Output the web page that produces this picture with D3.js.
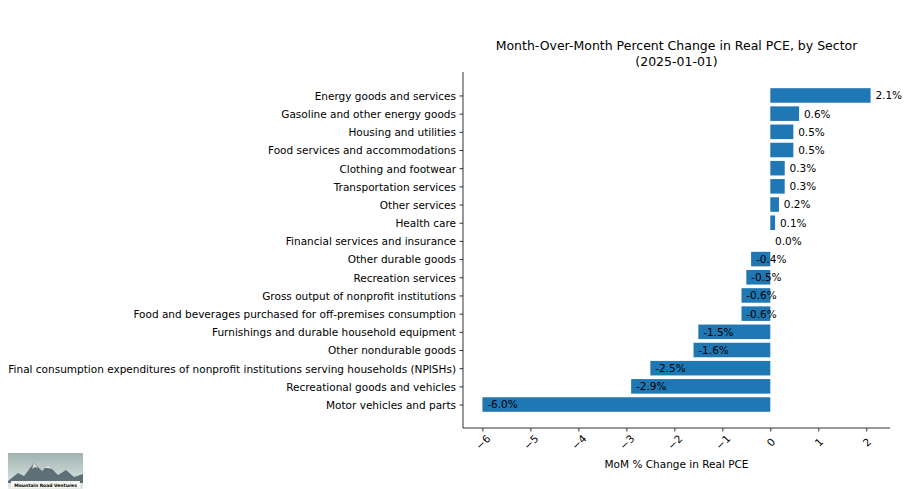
<!DOCTYPE html>
<meta charset="utf-8">
<style>
  body { margin: 0; background: #fff; }
  svg text { font-family: "DejaVu Sans", sans-serif; fill: #000; }
</style>
<script src="https://d3js.org/d3.v7.min.js"></script>
<div id="chart"></div>
<script>
// data (top bar first)
const sectors = [
  "Energy goods and services",
  "Gasoline and other energy goods",
  "Housing and utilities",
  "Food services and accommodations",
  "Clothing and footwear",
  "Transportation services",
  "Other services",
  "Health care",
  "Financial services and insurance",
  "Other durable goods",
  "Recreation services",
  "Gross output of nonprofit institutions",
  "Food and beverages purchased for off-premises consumption",
  "Furnishings and durable household equipment",
  "Other nondurable goods",
  "Final consumption expenditures of nonprofit institutions serving households (NPISHs)",
  "Recreational goods and vehicles",
  "Motor vehicles and parts"
];
const changes = [2.09, 0.6, 0.48, 0.48, 0.3, 0.3, 0.18, 0.1, 0.0, -0.4, -0.5, -0.6, -0.6, -1.5, -1.6, -2.5, -2.9, -6.0];
const xTicks = [-6, -5, -4, -3, -2, -1, 0, 1, 2];
const titleLines = ["Month-Over-Month Percent Change in Real PCE, by Sector", "(2025-01-01)"];
const xLabel = "MoM % Change in Real PCE";

const W = 906, H = 489;
const margin = {top: 72, right: 16, bottom: 61, left: 463};
const width = W - margin.left - margin.right,
      height = H - margin.top - margin.bottom;
const fs = 10.5;

const svg = d3.select("#chart").append("svg")
    .attr("width", W).attr("height", H);

const g = svg.append("g")
    .attr("transform", `translate(${margin.left},${margin.top})`);

// matplotlib-like 5% margins
const lo = d3.min(changes), hi = d3.max(changes);
const pad = (hi - lo) * 0.05;
const x = d3.scaleLinear().domain([lo - pad, hi + pad]).range([0, width]);

// bars at integer positions, height 0.8, 5% margin on the bar extent
const n = sectors.length;
const yLo = -0.4, yHi = (n - 1) + 0.4, yPad = (yHi - yLo) * 0.05;
const y = d3.scaleLinear().domain([yLo - yPad, yHi + yPad]).range([0, height]);
const bandH = y(0.8) - y(0);

g.selectAll("rect.bar").data(changes).enter().append("rect")
    .attr("class", "bar")
    .attr("x", d => x(Math.min(0, d)))
    .attr("y", (d, i) => y(i - 0.4))
    .attr("width", d => Math.abs(x(d) - x(0)))
    .attr("height", bandH)
    .attr("fill", "#1f77b4");

g.selectAll("text.val").data(changes).enter().append("text")
    .attr("class", "val")
    .attr("x", d => x(d + 0.1))
    .attr("y", (d, i) => y(i))
    .attr("dy", "0.37em")
    .attr("font-size", fs)
    .text(d => d.toFixed(1) + "%");

// y axis
const yAxis = g.append("g")
    .call(d3.axisLeft(y).tickValues(d3.range(n)).tickFormat(i => sectors[i])
      .tickSize(3.5).tickPadding(3.5));
yAxis.select(".domain").attr("stroke", "#000").attr("stroke-width", 0.8)
    .attr("d", `M0,0V${height}`);
yAxis.selectAll(".tick line").attr("stroke", "#000").attr("stroke-width", 0.8);
yAxis.selectAll(".tick text").attr("font-size", fs).attr("fill", "#000")
    .attr("font-family", "DejaVu Sans, sans-serif").attr("dy", "0.37em");

// x axis
const xAxis = g.append("g")
    .attr("transform", `translate(0,${height})`)
    .call(d3.axisBottom(x).tickValues(xTicks).tickFormat(d3.format("d"))
      .tickSize(3.5).tickPadding(3.5));
xAxis.select(".domain").attr("stroke", "#000").attr("stroke-width", 0.8)
    .attr("d", `M0,0H${width}`);
xAxis.selectAll(".tick line").attr("stroke", "#000").attr("stroke-width", 0.8);
xAxis.selectAll(".tick text")
    .attr("font-size", fs).attr("fill", "#000")
    .attr("font-family", "DejaVu Sans, sans-serif")
    .attr("text-anchor", "middle")
    .attr("dy", null)
    .attr("y", 0)
    .attr("transform", "translate(0,14) rotate(-45)")
    .attr("dominant-baseline", "central");

// axis label
g.append("text")
    .attr("x", width / 2).attr("y", height + 40)
    .attr("text-anchor", "middle").attr("font-size", fs)
    .text(xLabel);

// title
svg.append("g").selectAll("text").data(titleLines).enter().append("text")
    .attr("x", margin.left + width / 2)
    .attr("y", (d, i) => 50 + i * 16)
    .attr("text-anchor", "middle").attr("font-size", 12.5)
    .text(d => d);

// little logo in the corner
const logo = svg.append("g").attr("transform", "translate(8,453)");
const grad = svg.append("defs").append("linearGradient")
    .attr("id", "sky").attr("x1", 0).attr("y1", 0).attr("x2", 0).attr("y2", 1);
grad.append("stop").attr("offset", "0%").attr("stop-color", "#9fb3b0");
grad.append("stop").attr("offset", "100%").attr("stop-color", "#e6ece8");
logo.append("rect").attr("width", 75).attr("height", 36).attr("fill", "url(#sky)");
logo.append("path").attr("fill", "#5f6f78")
    .attr("d", "M0,28 L10,20 L16,23 L26,10 L34,18 L40,12 L50,22 L58,17 L66,24 L75,21 L75,30 L0,30Z");
logo.append("path").attr("fill", "#dfe5e6")
    .attr("d", "M26,10 L30,15 L27,14 L24,16Z M40,12 L44,16 L40,15 L37,15Z");
logo.append("rect").attr("x", 3).attr("y", 28).attr("width", 69).attr("height", 7).attr("fill", "#f4f4f0");
logo.append("text").attr("x", 37.5).attr("y", 33.5).attr("text-anchor", "middle")
    .attr("font-size", 4.5).attr("font-weight", "bold").text("Mountain Road Ventures");
</script>
